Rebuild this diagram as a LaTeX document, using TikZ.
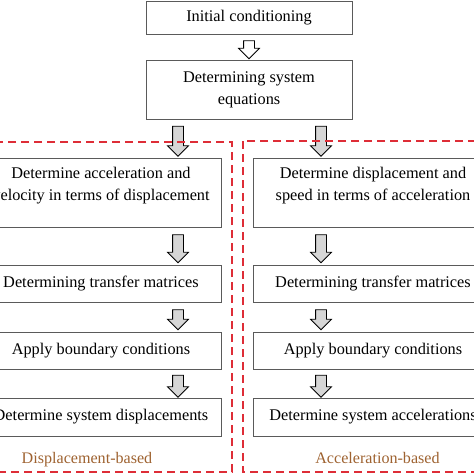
\documentclass[tikz,border=0pt]{standalone}
\usepackage{fontspec}
\setmainfont{Liberation Serif}
\usetikzlibrary{shapes.arrows,calc}
\definecolor{boxgray}{RGB}{90,90,90}
\definecolor{arrowgray}{RGB}{214,214,214}
\definecolor{regionred}{RGB}{222,45,55}
\definecolor{labelbrown}{RGB}{158,98,48}

\begin{document}
\begin{tikzpicture}[x=1pt, y=-1pt,
    stepbox/.style={draw=boxgray, line width=0.9pt, fill=white, inner sep=4pt, align=center, font=\fontsize{16.3}{22}\selectfont},
    flowarrow/.style={single arrow, draw=black, line width=0.8pt, fill=arrowgray, inner xsep=0pt, inner ysep=5pt, single arrow head extend=5pt, single arrow head indent=0pt, rotate=-90},
    region/.style={draw=regionred, line width=1.4pt, dash pattern=on 8pt off 5pt},
    regionlabel/.style={text=labelbrown, anchor=base, font=\fontsize{16.1}{22}\selectfont}]
    \useasboundingbox (0,0) rectangle (474,474);
    \clip (0,0) rectangle (474,474);

    % Common steps
    \node[stepbox, minimum width=206pt, minimum height=33pt] (init) at (249,17.5) {Initial conditioning};
    \node[stepbox, minimum width=206pt, minimum height=59pt] (eqs) at (249,89.5) {Determining system\\equations};

    % Displacement-based
    \node[stepbox, minimum width=240pt, text height=38pt, text depth=23pt] (dsp1) at (101,192.5) {Determine acceleration and\\velocity in terms of displacement};
    \node[stepbox, minimum width=240pt, minimum height=37pt] (dsp2) at (101,283.5) {Determining transfer matrices};
    \node[stepbox, minimum width=240pt, minimum height=37pt] (dsp3) at (101,350.5) {Apply boundary conditions};
    \node[stepbox, minimum width=240pt, minimum height=38pt] (dsp4) at (101,417) {Determine system displacements};

    % Acceleration-based
    \node[stepbox, minimum width=240pt, text height=38pt, text depth=23pt] (acc1) at (373,192.5) {Determine displacement and\\speed in terms of acceleration};
    \node[stepbox, minimum width=240pt, minimum height=37pt] (acc2) at (373,283.5) {Determining transfer matrices};
    \node[stepbox, minimum width=240pt, minimum height=37pt] (acc3) at (373,350.5) {Apply boundary conditions};
    \node[stepbox, minimum width=240pt, minimum height=38pt] (acc4) at (373,417) {Determine system accelerations};

    % Block arrows
    \coordinate (dspx) at (178,0);
    \coordinate (accx) at (321,0);
    \node[flowarrow, fill=white, minimum height=18pt] (a0) at ($(init.south)!.5!(eqs.north)$) {};
    \node[flowarrow, minimum height=30pt] (da0) at ($(eqs.south -| dspx)!.5!(dsp1.north -| dspx)$) {};
    \node[flowarrow, minimum height=28pt] (da1) at ($(dsp1.south -| dspx)!.5!(dsp2.north -| dspx)$) {};
    \node[flowarrow, minimum height=20pt] (da2) at ($(dsp2.south -| dspx)!.5!(dsp3.north -| dspx)$) {};
    \node[flowarrow, minimum height=22pt] (da3) at ($(dsp3.south -| dspx)!.5!(dsp4.north -| dspx)$) {};
    \node[flowarrow, minimum height=30pt] (aa0) at ($(eqs.south -| accx)!.5!(acc1.north -| accx)$) {};
    \node[flowarrow, minimum height=28pt] (aa1) at ($(acc1.south -| accx)!.5!(acc2.north -| accx)$) {};
    \node[flowarrow, minimum height=20pt] (aa2) at ($(acc2.south -| accx)!.5!(acc3.north -| accx)$) {};
    \node[flowarrow, minimum height=22pt] (aa3) at ($(acc3.south -| accx)!.5!(acc4.north -| accx)$) {};

    % Dashed regions
    \draw[region] (-10,142) rectangle (232,472);
    \draw[region] (243,141) rectangle (490,472);
    \node[regionlabel] (dsplabel) at (87,463) {Displacement-based};
    \node[regionlabel] (acclabel) at (377.5,463) {Acceleration-based};
\end{tikzpicture}
\end{document}
